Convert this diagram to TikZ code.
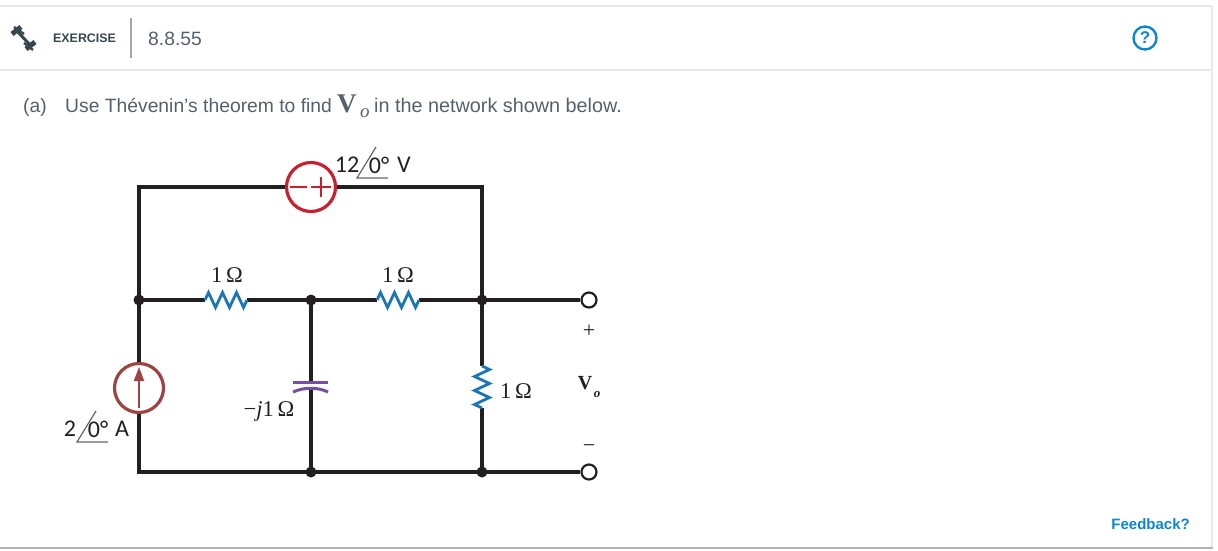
\documentclass[tikz,border=0pt]{standalone}
\usepackage{fontspec}
\setmainfont{Liberation Sans}
\newfontfamily\labelfont{Carlito}
\newfontfamily\ohmfont{Liberation Serif}
\usetikzlibrary{arrows.meta,decorations.pathmorphing}
\definecolor{bodygray}{HTML}{55606A}
\definecolor{icondark}{HTML}{37474F}
\definecolor{linkblue}{HTML}{0B86D1}
\definecolor{rulegray}{HTML}{E9E9E9}
\definecolor{wireblack}{HTML}{231F20}
\definecolor{vsred}{HTML}{C8202F}
\definecolor{csred}{HTML}{9E4242}
\definecolor{resblue}{HTML}{1C75B5}
\definecolor{capviolet}{HTML}{7650A0}
\tikzset{
    wire/.style={line width=3.8pt, color=wireblack},
    thinwire/.style={line width=3.1pt, color=wireblack},
    resistor/.style={line width=2.8pt, color=resblue, line join=miter, decorate, decoration={zigzag, amplitude=7.5pt, segment length=14pt}},
    junction/.style={circle, fill=wireblack, inner sep=0pt, minimum size=11pt},
    terminal/.style={circle, draw=wireblack, fill=white, line width=2.2pt, inner sep=0pt, minimum size=15pt},
    source/.style={circle, fill=white, line width=3.2pt, inner sep=0pt, minimum size=49pt},
    sizelabel/.style={inner sep=0pt, text=wireblack, font=\labelfont\fontsize{24}{26}\selectfont},
    ohmlabel/.style={inner sep=0pt, text=wireblack, font=\ohmfont\fontsize{22.5}{25}\selectfont},
    bodytext/.style={inner sep=0pt, anchor=base west, text=bodygray, font=\fontsize{19.3}{23}\selectfont},
    anglemark/.pic={\draw[line width=1.2pt, color=gray!80!black] (19,-31) -- (0,0) -- (31,0);}
}
\begin{document}
\begin{tikzpicture}[x=1pt, y=-1pt]
    \useasboundingbox (0,0) rectangle (1218,550);
    \fill[rulegray] (0,5) rectangle (1213,7);
    \fill[rulegray] (0,69) rectangle (1213,71);
    \fill[rulegray] (1211,5) rectangle (1213,548);
    \fill[gray!60] (0,547) rectangle (1213,549);
    \fill[gray!70] (130,18) rectangle (132,58);

    \draw[line width=3pt, color=icondark] (17,31) -- (31,46);
    \draw[line width=5pt, color=icondark] (12,34) -- (21,27);
    \draw[line width=5pt, color=icondark] (26,49) -- (35,42);
    \draw[line width=2.4pt, color=icondark] (14,27) -- (24,34);
    \draw[line width=2.4pt, color=icondark] (24,43) -- (33,50);
    \node[inner sep=0pt, anchor=base west, text=icondark, font=\bfseries\fontsize{12.4}{15}\selectfont] (exercise) at (53,42.5) {EXERCISE};
    \node[bodytext] (number) at (148,45) {8.8.55};
    \node[circle, draw=linkblue, line width=2.4pt, inner sep=0pt, minimum size=23pt, text=linkblue, font=\bfseries\fontsize{17}{17}\selectfont] (help) at (1145,38) {?};
    \node[inner sep=0pt, anchor=base east, text=linkblue, font=\bfseries\fontsize{15}{17}\selectfont] (feedback) at (1190,529.5) {Feedback?};

    \node[bodytext] (part) at (23,112) {(a)};
    \node[bodytext] (question) at (65,112) {Use Thévenin's theorem to find};
    \node[inner sep=0pt, anchor=base west, text=bodygray, font=\ohmfont\bfseries\fontsize{27}{29}\selectfont] (qv) at (337,112) {V};
    \node[inner sep=0pt, anchor=base west, text=bodygray, font=\ohmfont\itshape\fontsize{19}{21}\selectfont] (qo) at (360,117) {o};
    \node[bodytext, font=\fontsize{19.8}{23}\selectfont] (questionend) at (374,112) {in the network shown below.};

    \coordinate (tl) at (139,187);
    \coordinate (tr) at (482,187);
    \coordinate (bl) at (139,472);
    \node[junction] (jl) at (139,300) {};
    \node[junction] (jm) at (311,300) {};
    \node[junction] (jr) at (482,300) {};
    \node[junction] (bm) at (311,472) {};
    \node[junction] (br) at (482,472) {};
    \node[terminal] (topout) at (589,300) {};
    \node[terminal] (botout) at (589,472) {};
    \node[source, draw=vsred] (vsrc) at (311,187) {};
    \node[source, draw=csred] (isrc) at (139,388) {};
    \coordinate (ra1) at (205,300);
    \coordinate (rb1) at (247,300);
    \coordinate (ra2) at (377,300);
    \coordinate (rb2) at (419,300);
    \coordinate (ra3) at (482,366);
    \coordinate (rb3) at (482,408);
    \coordinate (capa) at (311,382);
    \coordinate (capb) at (311,387);
    \coordinate (arrowa) at (139,408);
    \coordinate (arrowb) at (139,367);

    \draw[wire] (vsrc) -- (tl) -- (jl.center);
    \draw[wire] (vsrc) -- (tr) -- (jr.center);
    \draw[wire] (jl.center) -- (ra1);
    \draw[wire] (rb1) -- (jm.center) -- (ra2);
    \draw[wire] (rb2) -- (jr.center);
    \draw[thinwire] (jr.center) -- (topout);
    \draw[thinwire] (jl.center) -- (isrc);
    \draw[wire] (isrc) -- (bl) -- (bm.center) -- (br.center);
    \draw[thinwire] (br.center) -- (botout);
    \draw[thinwire] (jm.center) -- (capa);
    \draw[thinwire] (capb) -- (bm.center);
    \draw[thinwire] (jr.center) -- (ra3);
    \draw[thinwire] (rb3) -- (br.center);
    \draw[resistor] (ra1) -- (rb1);
    \draw[resistor] (ra2) -- (rb2);
    \draw[resistor] (ra3) -- (rb3);

    \draw[line width=3pt, color=capviolet] (capa) ++(-18,0) -- ++(35,0);
    \draw[line width=3pt, color=capviolet] (capb) ++(-18,5) .. controls (304,387) and (318,387) .. (328,392);

    \draw[line width=1.2pt, color=vsred] (vsrc.center) ++(-21,0) -- ++(17,0);
    \draw[line width=1.2pt, color=vsred] (vsrc.center) ++(0,0) -- ++(20,0);
    \draw[line width=1.2pt, color=vsred] (vsrc.center) ++(10,-10) -- ++(0,20);
    \draw[line width=1.8pt, color=csred, -{Triangle[length=14pt, width=10pt]}] (arrowa) -- (arrowb);

    \node[sizelabel] (vnum) at (347,165) {12};
    \pic at (357,178) {anglemark};
    \node[sizelabel] (vdeg) at (379,165) {0°};
    \node[sizelabel] (vunit) at (404,165) {V};
    \node[sizelabel] (inum) at (70,429) {2};
    \pic at (77,442) {anglemark};
    \node[sizelabel] (ideg) at (98,429) {0°};
    \node[sizelabel] (iunit) at (122,429) {A};

    \node[ohmlabel] (rlab1) at (227,275) {1\,Ω};
    \node[ohmlabel] (rlab2) at (398,275) {1\,Ω};
    \node[ohmlabel] (rlab3) at (516,391) {1\,Ω};
    \node[ohmlabel] (clab) at (269,411) {−\textit{j}1\,Ω};

    \node[ohmlabel, font=\ohmfont\fontsize{22}{24}\selectfont] (plus) at (589,331) {+};
    \node[ohmlabel, font=\ohmfont\bfseries\fontsize{20}{22}\selectfont] (vo) at (585,383) {V};
    \node[ohmlabel, font=\ohmfont\bfseries\itshape\fontsize{13}{15}\selectfont] (vosub) at (597,394) {o};
    \node[ohmlabel, font=\ohmfont\fontsize{22}{24}\selectfont] (minus) at (589,449) {−};
\end{tikzpicture}
\end{document}
